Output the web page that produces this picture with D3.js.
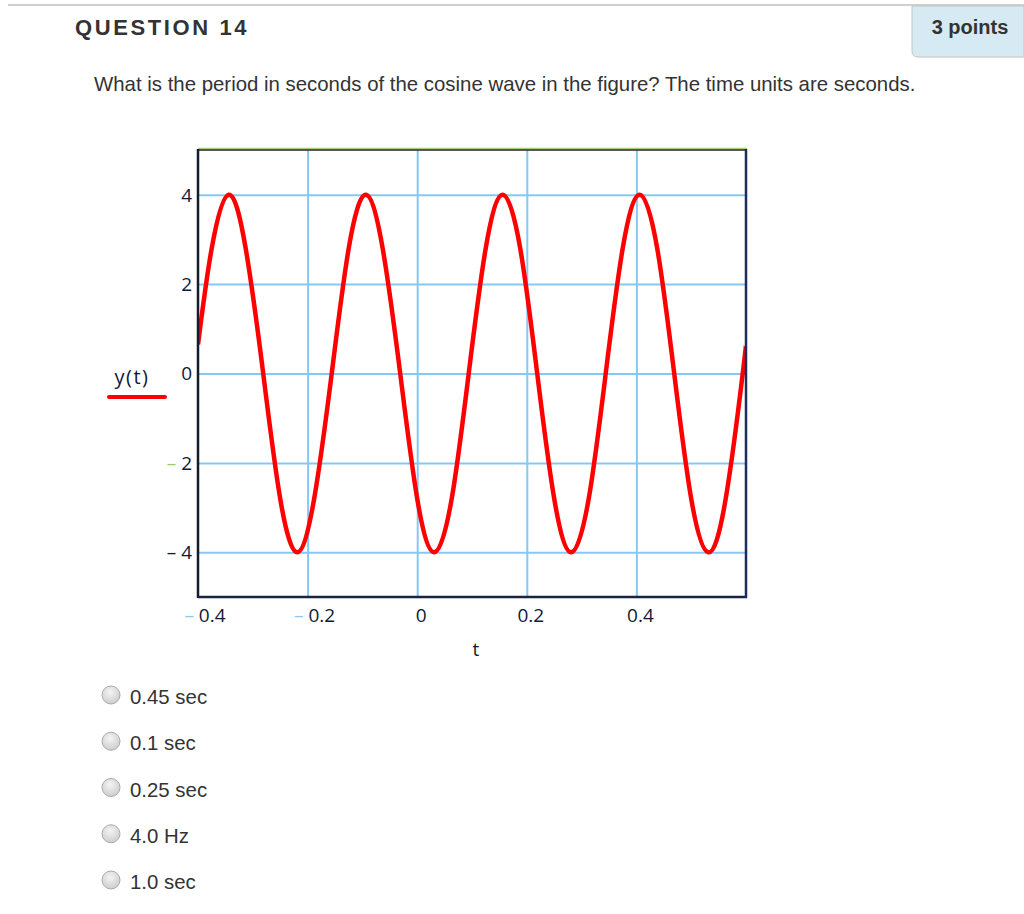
<!DOCTYPE html>
<html>
<head>
<meta charset="utf-8">
<script src="https://cdn.jsdelivr.net/npm/d3@7"></script>
<style>
body { margin: 0; background: #fff; }
svg { display: block; }
</style>
</head>
<body>
<svg id="svg" width="1024" height="914"></svg>
<script>
// values (peaks, troughs, crossings and half-way points)
var tValues = [-0.4, -0.375, -0.344, -0.313, -0.281, -0.25, -0.219, -0.188, -0.156, -0.125,
               -0.094, -0.063, -0.031, 0.0, 0.031, 0.063, 0.094, 0.125, 0.156, 0.188,
               0.219, 0.25, 0.281, 0.313, 0.344, 0.375, 0.406, 0.438, 0.469, 0.5,
               0.531, 0.563, 0.594, 0.6];
var yValues = [0.65, 2.8, 4, 2.8, 0, -2.8, -4, -2.8, 0, 2.8,
               4, 2.8, 0, -2.8, -4, -2.8, 0, 2.8, 4, 2.8,
               0, -2.8, -4, -2.8, 0, 2.8, 4, 2.8, 0, -2.8,
               -4, -2.8, 0, 0.65];
var xTicks = [-0.4, -0.2, 0, 0.2, 0.4];
var yTicks = [4, 2, 0, -2, -4];
var answers = ["0.45 sec", "0.1 sec", "0.25 sec", "4.0 Hz", "1.0 sec"];

var svg = d3.select("#svg");
var pageFont = "'Liberation Sans', Arial, sans-serif";
var plotFont = "'Open Sans', 'DejaVu Sans', sans-serif";

// page header
svg.append("line")
    .attr("x1", 8).attr("x2", 1024).attr("y1", 5).attr("y2", 5)
    .style("stroke", "#cfcfcf").style("stroke-width", 2);

svg.append("path")
    .attr("d", "M912,6 L1024,6 L1024,57 L918,57 Q912,57 912,51 Z")
    .style("fill", "#d5eaf2").style("stroke", "#c4c4c4").style("stroke-width", 1);

svg.append("text")
    .attr("x", 970).attr("y", 34)
    .attr("text-anchor", "middle")
    .style("font-family", pageFont).style("font-weight", "bold")
    .style("font-size", "20px").style("fill", "#333")
    .text("3 points");

svg.append("text")
    .attr("x", 75).attr("y", 35)
    .style("font-family", pageFont).style("font-weight", "bold")
    .style("font-size", "22px").style("letter-spacing", "2.6px").style("fill", "#333")
    .text("QUESTION 14");

svg.append("text")
    .attr("x", 94).attr("y", 91)
    .style("font-family", pageFont)
    .style("font-size", "20.4px").style("fill", "#333")
    .text("What is the period in seconds of the cosine wave in the figure? The time units are seconds.");

// plot
var plotLeft = 198, plotRight = 746, plotTop = 150, plotBottom = 597;
var x = d3.scaleLinear().domain([-0.4, 0.6]).range([plotLeft, plotRight]);
var y = d3.scaleLinear().domain([-5, 5]).range([plotBottom, plotTop]);

var gridColor = "#84c9f6";

svg.append("g")
    .attr("transform", "translate(0," + plotBottom + ")")
    .call(d3.axisBottom(x).tickValues(xTicks.slice(1)).tickSize(-(plotBottom - plotTop)).tickFormat(""))
    .call(function (g) {
        g.select(".domain").remove();
        g.selectAll("line").style("stroke", gridColor).style("stroke-width", 2);
    });

svg.append("g")
    .attr("transform", "translate(" + plotLeft + ",0)")
    .call(d3.axisLeft(y).tickValues(yTicks).tickSize(-(plotRight - plotLeft)).tickFormat(""))
    .call(function (g) {
        g.select(".domain").remove();
        g.selectAll("line").style("stroke", gridColor).style("stroke-width", 2);
    });

svg.append("clipPath").attr("id", "plotclip")
    .append("rect")
    .attr("x", plotLeft).attr("y", plotTop)
    .attr("width", plotRight - plotLeft).attr("height", plotBottom - plotTop);

var points = tValues.map(function (t, i) { return [t, yValues[i]]; });

var line = d3.line()
    .x(function (d) { return x(d[0]); })
    .y(function (d) { return y(d[1]); })
    .curve(d3.curveNatural);

svg.append("path")
    .datum(points)
    .attr("d", line)
    .attr("clip-path", "url(#plotclip)")
    .style("fill", "none")
    .style("stroke", "#ff0000")
    .style("stroke-width", 4.5)
    .style("stroke-linejoin", "round");

// frame
svg.append("line").attr("x1", plotLeft).attr("x2", plotRight + 1).attr("y1", plotTop - 1.5).attr("y2", plotTop - 1.5)
    .style("stroke", "#a4d27a").style("stroke-width", 1.5);
svg.append("line").attr("x1", plotLeft).attr("x2", plotRight).attr("y1", plotTop).attr("y2", plotTop)
    .style("stroke", "#222").style("stroke-width", 1.5);
svg.append("line").attr("x1", plotLeft).attr("x2", plotLeft).attr("y1", plotTop - 1).attr("y2", plotBottom + 1)
    .style("stroke", "#141c2c").style("stroke-width", 2.5);
svg.append("line").attr("x1", plotLeft).attr("x2", plotRight + 1).attr("y1", plotBottom).attr("y2", plotBottom)
    .style("stroke", "#1a2440").style("stroke-width", 2.5);
svg.append("line").attr("x1", plotRight).attr("x2", plotRight).attr("y1", plotTop - 1).attr("y2", plotBottom + 1)
    .style("stroke", "#1c2c5c").style("stroke-width", 2.5);

// tick labels
var labelColor = "#101a36";

var xLabels = svg.selectAll(".xlabel")
    .data(xTicks)
    .enter().append("text")
    .attr("class", "xlabel")
    .attr("x", function (d) { return x(d) + (d < 0 ? 7 : 4); })
    .attr("y", 622)
    .attr("text-anchor", "middle")
    .style("font-family", plotFont).style("font-size", "19px").style("fill", labelColor);
xLabels.filter(function (d) { return d < 0; })
    .append("tspan").style("fill", "#8cc8f0").text("\u2013 ");
xLabels.append("tspan").text(function (d) { return d === 0 ? "0" : String(Math.abs(d)); });

var minusColors = { "-2": "#9cc870", "-4": labelColor };
var yLabels = svg.selectAll(".ylabel")
    .data(yTicks)
    .enter().append("text")
    .attr("class", "ylabel")
    .attr("x", 192)
    .attr("y", function (d) { return y(d); })
    .attr("dy", "0.36em")
    .attr("text-anchor", "end")
    .style("font-family", plotFont).style("font-size", "19px").style("fill", labelColor);
yLabels.filter(function (d) { return d < 0; })
    .append("tspan").style("fill", function (d) { return minusColors[String(d)]; }).text("\u2013 ");
yLabels.append("tspan").text(function (d) { return String(Math.abs(d)); });

// axis titles
svg.append("text")
    .attr("x", 132).attr("y", 384)
    .attr("text-anchor", "middle")
    .style("font-family", plotFont).style("font-size", "20px")
    .style("letter-spacing", "1.5px").style("fill", labelColor)
    .text("y(t)");
svg.append("line")
    .attr("x1", 109).attr("x2", 165).attr("y1", 397).attr("y2", 397)
    .style("stroke", "#ff0000").style("stroke-width", 4).style("stroke-linecap", "round");

svg.append("text")
    .attr("x", 476).attr("y", 656)
    .attr("text-anchor", "middle")
    .style("font-family", plotFont).style("font-size", "19px").style("fill", labelColor)
    .text("t");

// answer choices
var grad = svg.append("defs").append("radialGradient")
    .attr("id", "radiograd").attr("cx", "45%").attr("cy", "35%").attr("r", "65%");
grad.append("stop").attr("offset", "0%").attr("stop-color", "#f4f4f4");
grad.append("stop").attr("offset", "100%").attr("stop-color", "#cdcdcd");

var optionY = d3.scalePoint().domain(d3.range(answers.length)).range([695, 880]);

var opts = svg.selectAll(".opt")
    .data(answers)
    .enter().append("g")
    .attr("class", "opt")
    .attr("transform", function (d, i) { return "translate(0," + optionY(i) + ")"; });

opts.append("circle")
    .attr("cx", 111).attr("cy", 0).attr("r", 9)
    .style("fill", "url(#radiograd)").style("stroke", "#aaa").style("stroke-width", 1);

opts.append("text")
    .attr("x", 130).attr("y", 9)
    .style("font-family", pageFont).style("font-size", "20.4px").style("fill", "#333")
    .text(function (d) { return d; });
</script>
</body>
</html>
